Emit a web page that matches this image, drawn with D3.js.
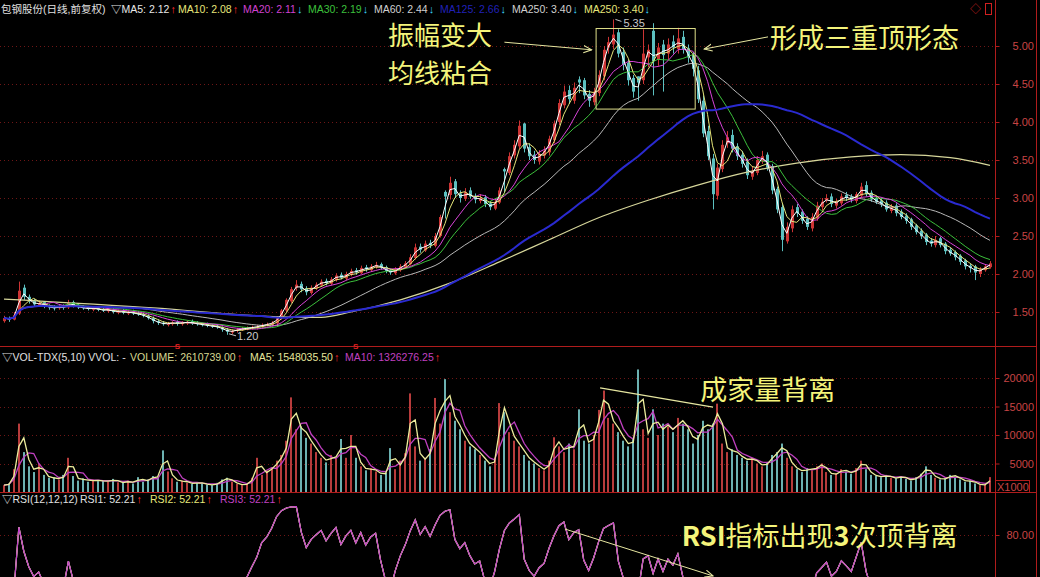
<!DOCTYPE html>
<html lang="zh">
<head>
<meta charset="utf-8">
<script src="https://d3js.org/d3.v7.min.js"></script>
<style>
    body { margin: 0; background: #000; overflow: hidden; }
    svg { display: block; }
</style>
</head>
<body>
<script>
var width = 1040, height = 577;

// one drawn bar stands for about 2.5 trading days of the screenshot,
// so MA / RSI periods are counted in days and turned into bars
var daysPerBar = 2.5;

var closes = [
    1.42, 1.40, 1.46, 1.78, 1.70, 1.64, 1.60, 1.62, 1.58, 1.56,
    1.55, 1.57, 1.56, 1.62, 1.58, 1.56, 1.55, 1.54, 1.55, 1.53,
    1.52, 1.53, 1.50, 1.51, 1.49, 1.50, 1.48, 1.47, 1.45, 1.42,
    1.38, 1.36, 1.34, 1.35, 1.36, 1.35, 1.36, 1.37, 1.35, 1.34,
    1.33, 1.32, 1.31, 1.30, 1.27, 1.24, 1.25, 1.27, 1.28, 1.29,
    1.30, 1.31, 1.33, 1.34, 1.36, 1.42, 1.52, 1.66, 1.80, 1.86,
    1.80, 1.76, 1.82, 1.86, 1.90, 1.88, 1.93, 1.98, 1.95, 2.00,
    2.04, 2.02, 2.08, 2.06, 2.10, 2.12, 2.08, 2.04, 2.02, 2.06,
    2.10, 2.14, 2.22, 2.35, 2.32, 2.40, 2.38, 2.50, 2.75, 3.02,
    3.20, 3.05, 3.00, 3.08, 3.02, 2.98, 3.00, 2.92, 2.88, 2.95,
    3.10, 3.35, 3.55, 3.70, 3.95, 3.65, 3.55, 3.50, 3.58, 3.62,
    3.78, 3.98, 4.25, 4.40, 4.30, 4.45, 4.52, 4.35, 4.28, 4.40,
    4.62, 4.95, 5.05, 5.15, 4.90, 4.75, 4.55, 4.40, 4.52, 4.90,
    4.95, 4.80, 4.98, 4.88, 5.02, 4.98, 5.10, 4.95, 4.85, 4.70,
    4.30, 3.85, 3.55, 3.05, 3.40, 3.70, 3.80, 3.65, 3.55, 3.45,
    3.30, 3.35, 3.50, 3.55, 3.40, 3.10, 2.85, 2.45, 2.62, 2.85,
    2.80, 2.70, 2.62, 2.75, 2.90, 2.95, 3.00, 2.92, 2.95, 3.02,
    3.00, 2.98, 3.05, 3.15, 3.05, 2.98, 2.95, 2.92, 2.85, 2.88,
    2.80, 2.75, 2.70, 2.62, 2.55, 2.50, 2.42, 2.40, 2.45, 2.38,
    2.30, 2.27, 2.22, 2.16, 2.10, 2.08, 2.02, 2.06, 2.10, 2.14
];

var opens = [
    1.38, 1.42, 1.40, 1.48, 1.82, 1.70, 1.65, 1.59, 1.63, 1.58,
    1.57, 1.55, 1.58, 1.56, 1.63, 1.59, 1.57, 1.56, 1.53, 1.55,
    1.54, 1.51, 1.53, 1.49, 1.52, 1.48, 1.51, 1.49, 1.47, 1.45,
    1.42, 1.38, 1.36, 1.33, 1.34, 1.37, 1.34, 1.35, 1.38, 1.36,
    1.34, 1.34, 1.32, 1.32, 1.30, 1.27, 1.23, 1.25, 1.26, 1.27,
    1.29, 1.29, 1.30, 1.33, 1.33, 1.35, 1.42, 1.52, 1.64, 1.82,
    1.87, 1.81, 1.75, 1.81, 1.85, 1.91, 1.87, 1.92, 1.99, 1.94,
    1.99, 2.05, 2.01, 2.09, 2.05, 2.09, 2.13, 2.09, 2.05, 2.01,
    2.05, 2.09, 2.13, 2.21, 2.36, 2.31, 2.41, 2.37, 2.50, 3.08,
    3.04, 3.22, 3.06, 2.99, 3.10, 3.03, 2.96, 3.01, 2.93, 2.86,
    2.94, 3.38, 3.33, 3.56, 3.68, 3.98, 3.67, 3.57, 3.48, 3.56,
    3.60, 3.76, 4.00, 4.22, 4.42, 4.28, 4.56, 4.55, 4.37, 4.26,
    4.38, 4.60, 4.98, 5.02, 5.18, 4.92, 4.78, 4.58, 4.60, 4.55,
    4.85, 5.20, 4.82, 5.02, 4.90, 5.06, 4.96, 5.12, 4.97, 4.88,
    4.68, 4.28, 3.88, 3.52, 3.03, 3.38, 3.72, 3.83, 3.68, 3.57,
    3.48, 3.28, 3.33, 3.48, 3.57, 3.42, 3.12, 2.88, 2.43, 2.60,
    2.88, 2.82, 2.73, 2.60, 2.73, 2.88, 2.97, 3.02, 2.90, 2.93,
    3.04, 3.02, 2.96, 3.03, 3.17, 3.07, 3.00, 2.97, 2.94, 2.83,
    2.90, 2.82, 2.77, 2.72, 2.64, 2.57, 2.52, 2.44, 2.38, 2.47,
    2.40, 2.32, 2.29, 2.24, 2.18, 2.11, 2.10, 2.00, 2.05, 2.09
];

var highs = [
    1.45, 1.44, 1.50, 1.90, 1.86, 1.73, 1.67, 1.65, 1.64, 1.60,
    1.59, 1.60, 1.60, 1.66, 1.65, 1.61, 1.59, 1.58, 1.57, 1.57,
    1.56, 1.55, 1.55, 1.53, 1.54, 1.52, 1.53, 1.51, 1.49, 1.47,
    1.44, 1.40, 1.38, 1.37, 1.38, 1.39, 1.38, 1.39, 1.40, 1.38,
    1.36, 1.36, 1.34, 1.34, 1.31, 1.29, 1.27, 1.29, 1.30, 1.31,
    1.32, 1.33, 1.35, 1.36, 1.38, 1.44, 1.54, 1.68, 1.83, 1.92,
    1.90, 1.84, 1.85, 1.89, 1.93, 1.94, 1.96, 2.01, 2.02, 2.03,
    2.07, 2.08, 2.11, 2.12, 2.13, 2.16, 2.15, 2.11, 2.07, 2.09,
    2.13, 2.17, 2.26, 2.40, 2.40, 2.44, 2.45, 2.54, 2.78, 3.10,
    3.28, 3.25, 3.10, 3.13, 3.14, 3.06, 3.05, 3.04, 2.96, 2.99,
    3.14, 3.40, 3.60, 3.76, 4.02, 3.99, 3.72, 3.62, 3.63, 3.68,
    3.82, 4.02, 4.30, 4.48, 4.48, 4.52, 4.60, 4.58, 4.42, 4.45,
    4.68, 5.00, 5.12, 5.35, 5.22, 4.98, 4.82, 4.62, 4.60, 5.22,
    5.02, 5.30, 5.04, 5.08, 5.10, 5.14, 5.24, 5.20, 5.02, 4.92,
    4.74, 4.35, 3.95, 3.58, 3.45, 3.76, 3.88, 3.90, 3.72, 3.62,
    3.52, 3.42, 3.55, 3.62, 3.60, 3.45, 3.15, 2.92, 2.68, 2.90,
    2.92, 2.85, 2.76, 2.80, 2.95, 3.00, 3.05, 3.06, 2.99, 3.06,
    3.08, 3.05, 3.08, 3.20, 3.22, 3.10, 3.03, 3.00, 2.97, 2.92,
    2.93, 2.85, 2.80, 2.74, 2.66, 2.60, 2.54, 2.47, 2.50, 2.49,
    2.42, 2.35, 2.31, 2.26, 2.20, 2.14, 2.12, 2.09, 2.13, 2.17
];

var lows = [
    1.36, 1.37, 1.39, 1.46, 1.66, 1.61, 1.57, 1.57, 1.55, 1.53,
    1.52, 1.53, 1.53, 1.54, 1.56, 1.54, 1.53, 1.52, 1.51, 1.51,
    1.50, 1.49, 1.48, 1.47, 1.47, 1.46, 1.46, 1.45, 1.43, 1.40,
    1.35, 1.33, 1.32, 1.31, 1.32, 1.32, 1.32, 1.33, 1.33, 1.32,
    1.31, 1.30, 1.29, 1.28, 1.24, 1.20, 1.21, 1.23, 1.25, 1.26,
    1.27, 1.27, 1.29, 1.31, 1.32, 1.34, 1.40, 1.50, 1.62, 1.78,
    1.76, 1.72, 1.73, 1.79, 1.83, 1.85, 1.85, 1.90, 1.93, 1.92,
    1.97, 1.99, 2.00, 2.03, 2.03, 2.07, 2.06, 2.01, 1.99, 1.99,
    2.03, 2.07, 2.11, 2.19, 2.28, 2.29, 2.34, 2.35, 2.48, 2.73,
    2.98, 3.00, 2.94, 2.96, 2.99, 2.93, 2.93, 2.88, 2.84, 2.84,
    2.92, 3.07, 3.30, 3.52, 3.64, 3.60, 3.50, 3.45, 3.44, 3.52,
    3.56, 3.72, 3.96, 4.18, 4.24, 4.24, 4.38, 4.30, 4.20, 4.22,
    4.34, 4.55, 4.90, 4.96, 4.85, 4.68, 4.48, 4.32, 4.28, 4.50,
    4.72, 4.35, 4.74, 4.40, 4.82, 4.90, 4.90, 4.90, 4.78, 4.60,
    4.25, 3.80, 3.50, 2.85, 2.98, 3.34, 3.66, 3.60, 3.50, 3.40,
    3.25, 3.24, 3.30, 3.45, 3.36, 3.05, 2.80, 2.30, 2.40, 2.55,
    2.75, 2.66, 2.58, 2.56, 2.70, 2.84, 2.94, 2.88, 2.86, 2.90,
    2.96, 2.94, 2.93, 3.00, 3.02, 2.95, 2.92, 2.88, 2.82, 2.80,
    2.76, 2.72, 2.66, 2.58, 2.52, 2.46, 2.38, 2.36, 2.35, 2.35,
    2.26, 2.24, 2.18, 2.12, 2.06, 2.02, 1.92, 1.96, 2.03, 2.07
];

// volume, in the axis unit (x1000)
var volumes = [
    1200, 1500, 4000, 12000, 7000, 4500, 3500, 5000, 3000, 2500,
    2500, 2200, 3000, 6000, 2800, 2000, 2400, 1800, 2200, 1900,
    2000, 1800, 2300, 1700, 1600, 2000, 1500, 2600, 1800, 2200,
    2800, 2500, 7300, 3600, 2400, 1800, 2000, 1600, 1400, 1700,
    1500, 1300, 1200, 1600, 2200, 2500, 1800, 1400, 1200, 1500,
    2500, 6000, 3000, 3800, 4200, 5500, 6500, 9000, 16600, 11000,
    11500, 9500, 8500, 7000, 6000, 5200, 6500, 5800, 9300, 6000,
    10000, 6000, 4500, 3800, 4200, 3600, 3000, 3400, 7700, 4000,
    5500, 6800, 17300, 8000, 5500, 6000, 7500, 16500, 12000, 19800,
    14000, 12500, 11000, 9000, 8000, 7500, 6500, 5500, 4500, 6000,
    15600, 14000, 10500, 9000, 8000, 6500, 5500, 5000, 4200, 3800,
    5500, 9600, 8000, 7000, 8500, 7500, 14500, 9000, 8500, 10000,
    14400, 17800, 13000, 12000, 10500, 9000, 8000, 9500, 21500, 11000,
    9500, 14500, 10000, 12000, 11500, 10500, 13000, 12000, 11000, 8500,
    10000, 12500, 11000, 12000, 15500, 8500, 7000, 7500, 6500, 6000,
    5500, 6000, 5000, 4500, 5200, 6500, 7000, 8500, 6000, 4500,
    4000, 3500, 4200, 3800, 4500, 5000, 3500, 3000, 3300, 4000,
    3600, 3200, 4200, 5500, 4000, 3000, 2800, 2600, 3000, 2500,
    2400, 2800, 2300, 2000, 2600, 3200, 4500, 3000, 2500, 2200,
    2400, 3000, 2700, 2200, 1800, 2000, 1500, 1200, 1300, 2611
];

var ma250Bars = [0, 31, 51, 64, 70, 80, 90, 100, 110, 120, 130, 140, 150, 160, 171, 181, 191, 199];
var ma250Vals = [1.67, 1.55, 1.45, 1.43, 1.50, 1.66, 1.88, 2.16, 2.45, 2.74, 2.97, 3.17, 3.34, 3.46, 3.54, 3.57, 3.53, 3.43];

var maPeriods = [60, 30, 20, 10, 5, 125];
var priceTicks = [1.5, 2, 2.5, 3, 3.5, 4, 4.5, 5];
var volTicks = [5000, 10000, 15000, 20000];
var rsiTicks = [80];
var signalBars = [35, 71];

// header texts
var stockTitle = '包钢股份(日线,前复权)';
var maNames = ['▽MA5', 'MA10', 'MA20', 'MA30', 'MA60', 'MA125', 'MA250', 'MA250'];
var maValues = ['2.12', '2.08', '2.11', '2.19', '2.44', '2.66', '3.40', '3.40'];
var maTrend = ['up', 'up', 'down', 'down', 'down', 'down', 'down', 'down'];
var volNames = ['VOLUME', 'MA5', 'MA10'];
var volValues = ['2610739.00', '1548035.50', '1326276.25'];
var rsiNames = ['RSI1', 'RSI2', 'RSI3'];
var rsiValues = ['52.21', '52.21', '52.21'];

var upColor = '#cc3434', downColor = '#5cc0c0';
var axisRed = '#b01c1c', labelRed = '#c84444', gridRed = '#6e1616';
var noteColor = '#f4f47a', noteLine = '#e6e6a0';
var font = '"Liberation Sans", "Noto Sans CJK SC", sans-serif';
var cjk = '"Noto Sans CJK SC", sans-serif';

var svg = d3.select('body').append('svg').attr('width', width).attr('height', height);
svg.append('rect').attr('width', width).attr('height', height).attr('fill', '#000');

var defs = svg.append('defs');
[['clipP', 17, 329], ['clipV', 362, 130], ['clipR', 506, 71]].forEach(function(c) {
    defs.append('clipPath').attr('id', c[0]).append('rect')
        .attr('x', 0).attr('y', c[1]).attr('width', 994).attr('height', c[2]);
});
defs.append('marker').attr('id', 'arr').attr('viewBox', '0 -5 10 10')
    .attr('refX', 9).attr('refY', 0).attr('markerWidth', 9).attr('markerHeight', 9)
    .attr('markerUnits', 'userSpaceOnUse').attr('orient', 'auto')
    .append('path').attr('d', 'M0,-4L9,0L0,4').attr('fill', 'none')
    .attr('stroke', noteLine).attr('stroke-width', 1.2);

var N = closes.length;
var idx = d3.range(N);
var x = d3.scaleLinear().domain([0, N - 1]).range([4, 990]);
var yP = d3.scaleLinear().domain([1.5, 5]).range([312, 46]);
var yV = d3.scaleLinear().domain([0, 20000]).range([492, 378]);
var yR = d3.scaleLinear().domain([0, 100]).range([655, 505]);

function win(p) { return Math.max(1, Math.round(p / daysPerBar)); }
function movingAvg(arr, n) {
    return arr.map(function(v, i) { return d3.mean(arr.slice(Math.max(0, i - n + 1), i + 1)); });
}
function tdxSma(arr, n, m) {
    var prev, out = [];
    arr.forEach(function(v, i) { prev = i === 0 ? v : (m * v + (n - m) * prev) / n; out.push(prev); });
    return out;
}
function isUp(i) { return closes[i] >= opens[i]; }

// grid lines
function grid(ticks, scale) {
    svg.append('g').selectAll('line').data(ticks).join('line')
        .attr('x1', 0).attr('x2', 994)
        .attr('y1', function(d) { return Math.round(scale(d)) + 0.5; })
        .attr('y2', function(d) { return Math.round(scale(d)) + 0.5; })
        .attr('stroke', gridRed).attr('stroke-dasharray', '1,3');
}
grid(priceTicks, yP);
grid(volTicks, yV);
grid(rsiTicks, yR);

// ---- price panel
var gP = svg.append('g').attr('clip-path', 'url(#clipP)');
gP.selectAll('line.wick').data(idx).join('line').attr('class', 'wick')
    .attr('x1', function(i) { return Math.round(x(i)) + 0.5; })
    .attr('x2', function(i) { return Math.round(x(i)) + 0.5; })
    .attr('y1', function(i) { return yP(highs[i]); })
    .attr('y2', function(i) { return yP(lows[i]); })
    .attr('stroke', function(i) { return isUp(i) ? upColor : downColor; });
gP.selectAll('rect.body').data(idx).join('rect').attr('class', 'body')
    .attr('x', function(i) { return Math.round(x(i)) - 1; })
    .attr('width', 3)
    .attr('y', function(i) { return yP(Math.max(opens[i], closes[i])); })
    .attr('height', function(i) { return Math.max(1, Math.abs(yP(opens[i]) - yP(closes[i]))); })
    .attr('fill', function(i) { return isUp(i) ? upColor : downColor; });

var priceLine = d3.line().x(function(d, i) { return x(i); }).y(function(d) { return yP(d); });
gP.append('path')
    .attr('d', d3.line().curve(d3.curveMonotoneX)
        .x(function(d, k) { return x(ma250Bars[k]); }).y(function(d) { return yP(d); })(ma250Vals))
    .attr('fill', 'none').attr('stroke', '#d6d69a').attr('stroke-width', 1.2);

var maColor = { 5: '#ffffff', 10: '#e6e67a', 20: '#d844d8', 30: '#3cc03c', 60: '#b8b8b8', 125: '#2a2ad0' };
maPeriods.forEach(function(p) {
    gP.append('path').attr('d', priceLine(movingAvg(closes, win(p))))
        .attr('fill', 'none').attr('stroke', maColor[p])
        .attr('stroke-width', p === 125 ? 2 : 1);
});

// highest / lowest marks
var iHi = d3.maxIndex(highs), iLo = d3.minIndex(lows);
var hx = x(iHi), hy = yP(highs[iHi]), lx = x(iLo), ly = yP(lows[iLo]);
svg.append('path').attr('d', 'M' + (hx + 2) + ',' + hy + 'L' + (hx + 8) + ',' + (hy + 2))
    .attr('stroke', '#c8c8c8').attr('fill', 'none');
svg.append('text').attr('x', hx + 10).attr('y', hy + 8).text(d3.format('.2f')(highs[iHi]))
    .attr('fill', '#c8c8c8').style('font', '11px ' + font);
svg.append('path').attr('d', 'M' + (lx + 2) + ',' + (ly - 1) + 'L' + (lx + 9) + ',' + (ly + 1))
    .attr('stroke', '#c8c8c8').attr('fill', 'none');
svg.append('text').attr('x', lx + 10).attr('y', ly + 5).text(d3.format('.2f')(lows[iLo]))
    .attr('fill', '#c8c8c8').style('font', '11px ' + font);

// ---- volume panel
var gV = svg.append('g').attr('clip-path', 'url(#clipV)');
gV.selectAll('rect').data(idx).join('rect')
    .attr('x', function(i) { return Math.round(x(i)) - 1; })
    .attr('width', 2)
    .attr('y', function(i) { return yV(volumes[i]); })
    .attr('height', function(i) { return yV(0) - yV(volumes[i]); })
    .attr('fill', function(i) { return isUp(i) ? '#b83c3c' : '#6cb2b2'; });
var volLine = d3.line().x(function(d, i) { return x(i); }).y(function(d) { return yV(d); });
gV.append('path').attr('d', volLine(movingAvg(volumes, win(10))))
    .attr('fill', 'none').attr('stroke', '#c040c0').attr('stroke-width', 1.3);
gV.append('path').attr('d', volLine(movingAvg(volumes, win(5))))
    .attr('fill', 'none').attr('stroke', '#ecec9c').attr('stroke-width', 1.3);

// ---- RSI panel (TDX formula)
var rsiN = win(12);
var ups = [], moves = [];
for (var i = 1; i < N; i++) {
    var dlt = closes[i] - closes[i - 1];
    ups.push(Math.max(dlt, 0));
    moves.push(Math.abs(dlt));
}
var su = tdxSma(ups, rsiN, 1), sa = tdxSma(moves, rsiN, 1);
var rsi = su.map(function(u, k) { return sa[k] ? u / sa[k] * 100 : 50; });
var gR = svg.append('g').attr('clip-path', 'url(#clipR)');
var rsiLine = d3.line().x(function(d, k) { return x(k + 1); }).y(function(d) { return yR(d); });
['#e0e0e0', '#e6e67a', '#c040c8'].forEach(function(c) {
    gR.append('path').attr('d', rsiLine(rsi)).attr('fill', 'none').attr('stroke', c).attr('stroke-width', 1.2);
});

// ---- frame
svg.append('line').attr('x1', 0).attr('x2', 1037).attr('y1', 346.5).attr('y2', 346.5).attr('stroke', axisRed);
svg.append('line').attr('x1', 0).attr('x2', 1037).attr('y1', 492.5).attr('y2', 492.5).attr('stroke', axisRed);
svg.append('line').attr('x1', 995.5).attr('x2', 995.5).attr('y1', 0).attr('y2', height).attr('stroke', axisRed);
svg.append('line').attr('x1', 1036.5).attr('x2', 1036.5).attr('y1', 0).attr('y2', height).attr('stroke', axisRed);

function rightAxis(scale, ticks, fmt) {
    var g = svg.append('g').attr('transform', 'translate(995.5,0)')
        .call(d3.axisRight(scale).tickValues(ticks).tickSize(4).tickFormat(fmt));
    g.select('.domain').remove();
    g.selectAll('line').attr('stroke', axisRed);
    g.selectAll('text').attr('x', 38.5).attr('text-anchor', 'end').attr('fill', labelRed)
        .style('font', '11px ' + font);
}
rightAxis(yP, priceTicks, d3.format('.2f'));
rightAxis(yV, volTicks, d3.format('d'));
rightAxis(yR, rsiTicks, d3.format('.2f'));

svg.append('rect').attr('x', 995.5).attr('y', 480.5).attr('width', 34).attr('height', 12)
    .attr('fill', 'none').attr('stroke', axisRed);
svg.append('text').attr('x', 997).attr('y', 491).text('X1000').attr('fill', labelRed)
    .style('font', '11px ' + font);

// S marks on the panel border
svg.selectAll('text.sig').data(signalBars).join('text').attr('class', 'sig')
    .attr('x', function(b) { return x(b); }).attr('y', 349).attr('text-anchor', 'middle')
    .text('S').attr('fill', '#e02020').style('font', 'bold 8px ' + font);

// ---- headers
function arrow(xp, yb, dir) {
    svg.append('text').attr('x', xp).attr('y', yb).text(dir === 'up' ? '↑' : '↓')
        .attr('fill', dir === 'up' ? '#ff2a2a' : '#3ad6ff').style('font', 'bold 11px ' + font);
}
function header(items, yb) {
    items.forEach(function(it) {
        var t = svg.append('text').attr('x', it.x).attr('y', yb).text(it.text)
            .attr('fill', it.color).style('font', (it.size || 10.5) + 'px ' + font);
        if (it.dir) arrow(it.x + t.node().getComputedTextLength() + 1, yb, it.dir);
    });
}
var maHdrX = [111, 178, 243, 308, 374, 440, 512, 584];
var maHdrColor = ['#e8e8e8', '#e6e67a', '#d040d0', '#3cc03c', '#d0d0d0', '#2020b8', '#d0d0d0', '#e6e67a'];
header([{ x: 1, text: stockTitle, color: '#e0e0e0', size: 10.5 }].concat(maNames.map(function(n, k) {
    return { x: maHdrX[k], text: n + ': ' + maValues[k], color: maHdrColor[k], dir: maTrend[k] };
})), 13);

svg.append('text').attr('x', 970).attr('y', 13).text('◇').attr('fill', '#d02020').style('font', '11px ' + font);
svg.append('rect').attr('x', 985.5).attr('y', 3.5).attr('width', 6).attr('height', 11)
    .attr('fill', 'none').attr('stroke', '#d02020');

var volHdrX = [130, 250, 345];
var volHdrColor = ['#d8d890', '#e6e69a', '#c040c0'];
header([{ x: 2, text: '▽VOL-TDX(5,10) VVOL: -', color: '#e0e0e0' }].concat(volNames.map(function(n, k) {
    return { x: volHdrX[k], text: n + ': ' + volValues[k], color: volHdrColor[k], dir: 'up' };
})), 361);

var rsiHdrX = [80, 150, 220];
var rsiHdrColor = ['#e0e0e0', '#e6e67a', '#c040c0'];
header([{ x: 2, text: '▽RSI(12,12,12)', color: '#e0e0e0' }].concat(rsiNames.map(function(n, k) {
    return { x: rsiHdrX[k], text: n + ': ' + rsiValues[k], color: rsiHdrColor[k], dir: 'up' };
})), 503);

// ---- annotations (placed in data units)
var leftNote = { lines: ['振幅变大', '均线粘合'], bar: 77.5, price: 5.01 };
var rightNote = { text: '形成三重顶形态', bar: 154.6, price: 4.97 };
var priceArrows = [[[101, 5.05], [118.6, 4.95]], [[154.2, 5.12], [141.3, 4.96]]];
var topBox = { bars: [119.5, 139.5], prices: [4.17, 5.23] };

var ln = svg.append('text').attr('fill', noteColor).style('font', '26px ' + cjk);
leftNote.lines.forEach(function(s, k) {
    ln.append('tspan').attr('x', x(leftNote.bar)).attr('y', yP(leftNote.price) + k * 38).text(s);
});
svg.append('text').attr('x', x(rightNote.bar)).attr('y', yP(rightNote.price)).text(rightNote.text)
    .attr('fill', noteColor).style('font', '27px ' + cjk);
priceArrows.forEach(function(a) {
    svg.append('line').attr('x1', x(a[0][0])).attr('y1', yP(a[0][1]))
        .attr('x2', x(a[1][0])).attr('y2', yP(a[1][1]))
        .attr('stroke', noteLine).attr('marker-end', 'url(#arr)');
});
svg.append('rect').attr('x', x(topBox.bars[0])).attr('y', yP(topBox.prices[1]))
    .attr('width', x(topBox.bars[1]) - x(topBox.bars[0]))
    .attr('height', yP(topBox.prices[0]) - yP(topBox.prices[1]))
    .attr('fill', 'none').attr('stroke', '#e0e08a');

var volNote = { text: '成家量背离', bar: 140.5, vol: 16100 };
var volDiv = [[120.3, 18250], [143.1, 14900]];
svg.append('line').attr('x1', x(volDiv[0][0])).attr('y1', yV(volDiv[0][1]))
    .attr('x2', x(volDiv[1][0])).attr('y2', yV(volDiv[1][1])).attr('stroke', noteLine).attr('stroke-width', 1.3);
svg.append('text').attr('x', x(volNote.bar)).attr('y', yV(volNote.vol)).text(volNote.text)
    .attr('fill', noteColor).style('font', '27px ' + cjk);

var rsiNote = { bar: 136.8, rsi: 72.7 };
var rsiDiv = [[113.2, 84], [143.1, 52.7]];
svg.append('line').attr('x1', x(rsiDiv[0][0])).attr('y1', yR(rsiDiv[0][1]))
    .attr('x2', x(rsiDiv[1][0])).attr('y2', yR(rsiDiv[1][1]))
    .attr('stroke', noteLine).attr('marker-end', 'url(#arr)');
var rt = svg.append('text').attr('x', x(rsiNote.bar)).attr('y', yR(rsiNote.rsi))
    .attr('fill', noteColor).style('font', '27px ' + cjk);
rt.append('tspan').text('RSI').style('font-weight', 'bold');
rt.append('tspan').text('指标出现');
rt.append('tspan').text('3').style('font-weight', 'bold');
rt.append('tspan').text('次顶背离');
</script>
</body>
</html>
